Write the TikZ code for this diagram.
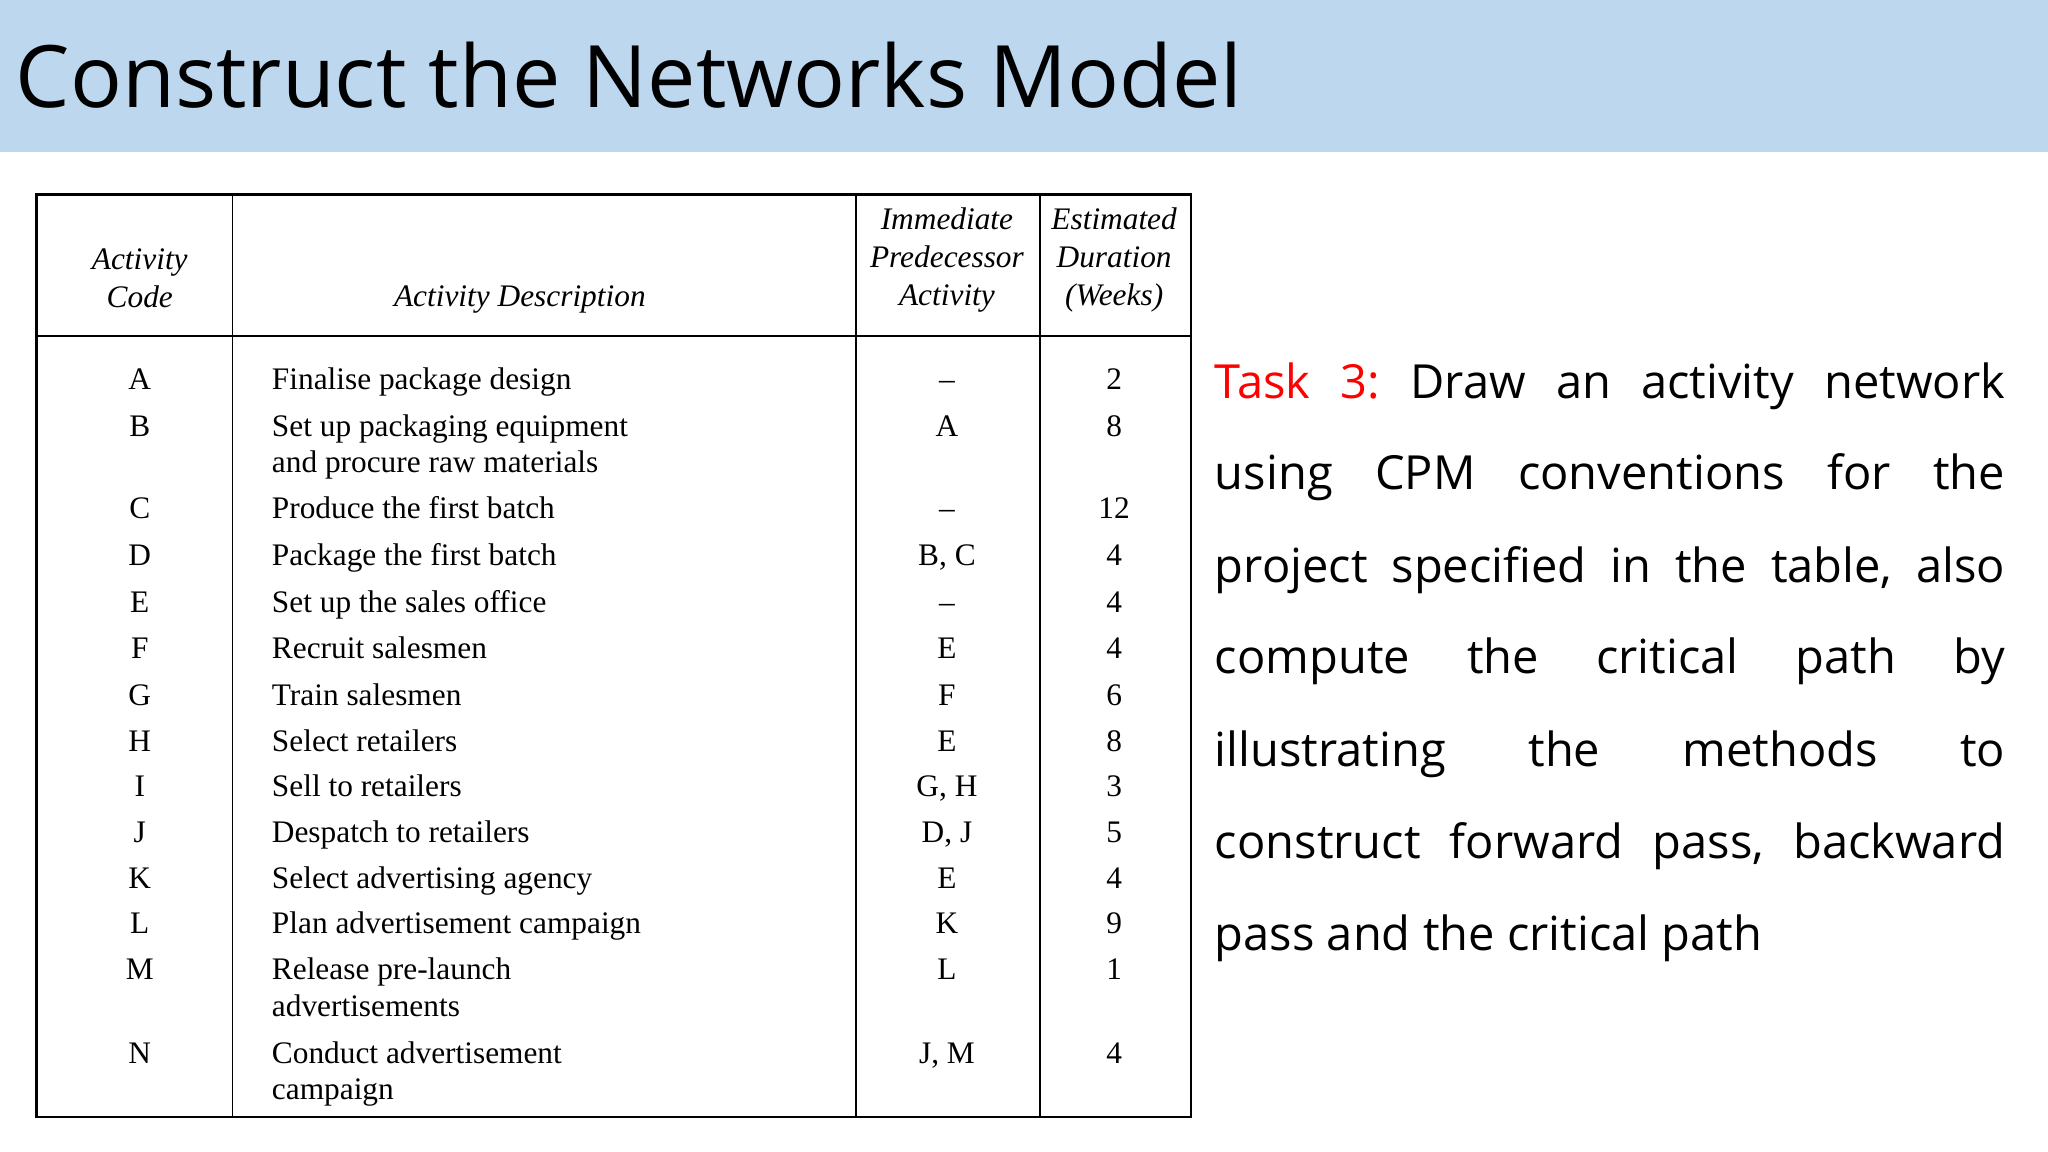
\documentclass[tikz,border=0pt]{standalone}
\usepackage{fontspec}
\setmainfont{Liberation Serif}
\newfontfamily\uisans{Open Sans}
\definecolor{band}{HTML}{BDD7EE}
\begin{document}
\begin{tikzpicture}[x=1pt,y=-1pt,
  cell/.style={font=\fontsize{24}{28}\selectfont,inner sep=0pt,anchor=base},
  hdr/.style={font=\fontsize{24}{29}\selectfont\itshape,align=center,inner sep=0pt},
  rt/.style={font=\uisans\fontsize{36}{40}\selectfont,anchor=base west,inner sep=0pt}]
\useasboundingbox (0,0) rectangle (1568,882);
\fill[band] (0,0) rectangle (1568,116);
\node[anchor=base west,inner sep=0pt,font=\uisans\fontsize{66}{74}\selectfont] (title) at (12,82) {Construct the Networks Model};
% table
\draw[line width=1.8pt] (28,149) rectangle (912,855);
\draw[line width=1.5pt] (28,257) -- (912,257);
\foreach \x in {178,655,796} \draw[line width=1.5pt] (\x,149) -- (\x,855);
\node[hdr] (h1) at (107,213) {Activity\\Code};
\node[hdr,anchor=base] (h2) at (398,235) {Activity Description};
\node[hdr] (h3) at (725,199) {Immediate\\Predecessor\\Activity};
\node[hdr] (h4) at (853,199) {Estimated\\Duration\\(Weeks)};
\foreach \c/\d/\p/\w/\y [count=\i] in {
 A/Finalise package design/--/2/298,
 B/Set up packaging equipment/A/8/334,
 C/Produce the first batch/--/12/397,
 D/Package the first batch/{B, C}/4/433,
 E/Set up the sales office/--/4/469,
 F/Recruit salesmen/E/4/504,
 G/Train salesmen/F/6/540,
 H/Select retailers/E/8/575,
 I/Sell to retailers/{G, H}/3/610,
 J/Despatch to retailers/{D, J}/5/645,
 K/Select advertising agency/E/4/680,
 L/Plan advertisement campaign/K/9/715,
 M/Release pre-launch/L/1/750,
 N/Conduct advertisement/{J, M}/4/814}{
 \node[cell] (c\i) at (107,\y) {\c};
 \node[cell,anchor=base west] (d\i) at (208,\y) {\d};
 \node[cell] (p\i) at (725,\y) {\p};
 \node[cell] (w\i) at (853,\y) {\w};
}
\node[cell,anchor=base west] (d2b) at (208,362) {and procure raw materials};
\node[cell,anchor=base west] (d13b) at (208,778) {advertisements};
\node[cell,anchor=base west] (d14b) at (208,842) {campaign};
% right text
\newcommand{\jl}[1]{\makebox[605pt][s]{#1}}
\node[rt] (t1) at (930,305) {\jl{{\color{red}Task\hfill 3:}\hfill Draw\hfill an\hfill activity\hfill network}};
\node[rt] (t2) at (930,375) {\jl{using\hfill CPM\hfill conventions\hfill for\hfill the}};
\node[rt] (t3) at (930,446) {\jl{project\hfill specified\hfill in\hfill the\hfill table,\hfill also}};
\node[rt] (t4) at (930,516) {\jl{compute\hfill the\hfill critical\hfill path\hfill by}};
\node[rt] (t5) at (930,587) {\jl{illustrating\hfill the\hfill methods\hfill to}};
\node[rt] (t6) at (930,657) {\jl{construct\hfill forward\hfill pass,\hfill backward}};
\node[rt] (t7) at (930,728) {pass and the critical path};
\end{tikzpicture}
\end{document}
